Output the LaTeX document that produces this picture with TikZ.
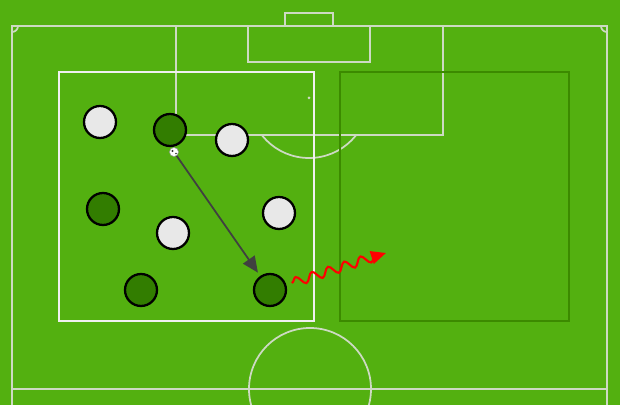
\documentclass[tikz,border=0pt]{standalone}
\usetikzlibrary{arrows.meta,calc,decorations.pathmorphing}
\definecolor{pitch}{RGB}{83,176,16}
\definecolor{pitchline}{RGB}{205,218,195}
\definecolor{darkteam}{RGB}{50,125,0}
\definecolor{lightteam}{RGB}{232,232,232}
\definecolor{zone}{RGB}{60,138,0}
\tikzset{
	home/.style={circle, draw=black, line width=1.3pt, fill=darkteam, minimum size=0.64cm, inner sep=0pt},
	away/.style={home, fill=lightteam},
	pline/.style={draw=pitchline, line width=1pt},
	pass/.style={draw=black!75, line width=1pt, -{Triangle[length=0.32cm,width=0.28cm]}, shorten >=0.08cm},
	run/.style={draw=red, line width=1.2pt, decorate, decoration={snake, amplitude=0.09cm, segment length=0.34cm, post length=0.22cm}, -{Triangle[length=0.3cm,width=0.26cm]}},
}

\begin{document}
\begin{tikzpicture}[x=0.02cm, y=-0.02cm]
			%%%%% PITCH %%%%%
			
			\fill[pitch] (0,0) rectangle (620,405);
			\useasboundingbox (0,0) rectangle (620,405);
			
			\draw[pline] (12,405) -- (12,26) -- (607,26) -- (607,405);
			\draw[pline] (12,389) -- (607,389);
			\draw[pline] (310,389) circle (61);
			\fill[pitchline] (310,389) circle (1.2);
			
			\draw[pline] (285,26) -- (285,13) -- (333,13) -- (333,26);
			\draw[pline] (176,26) rectangle (443,135);
			\draw[pline] (248,26) rectangle (370,62);
			\fill[pitchline] (309,98) circle (1.5);
			
			\begin{scope}
				\clip (0,135) rectangle (620,405);
				\draw[pline] (309,98) circle (60);
			\end{scope}
			\begin{scope}
				\clip (12,26) rectangle (607,405);
				\draw[pline] (12,26) circle (6);
				\draw[pline] (607,26) circle (6);
			\end{scope}
			
			%%%%% ZONES %%%%%
			
			\draw[line width=1.2pt, color=white!94!black] (59,72) rectangle (314,321);
			\draw[line width=1pt, color=zone] (340,72) rectangle (569,321);
			
			%%%%% PLAYERS %%%%%
			
			\node[away] (a1) at (100,122) {};
			\node[away] (a2) at (232,140) {};
			\node[away] (a3) at (279,213) {};
			\node[away] (a4) at (173,233) {};
			
			\node[home] (h1) at (170,130) {};
			\node[home] (h2) at (103,209) {};
			\node[home] (h3) at (141,290) {};
			\node[home] (h4) at (270,290) {};
			
			\node[circle, draw=black!40, line width=0.3pt, fill=white, minimum size=0.18cm, inner sep=0pt] (ball) at (174,152) {};
			\fill[black!80] (172.5,151) circle (1.2);
			\fill[black!80] (176,153.5) circle (0.9);
			
			%%%%% MOVES %%%%%
			
			\coordinate (runend) at (386,253);
			\draw[pass] (ball) -- (h4);
			\draw[run] ($(h4)!0.46cm!(runend)$) -- (runend);
			
			%%%%% END %%%%%
\end{tikzpicture}
\end{document}
